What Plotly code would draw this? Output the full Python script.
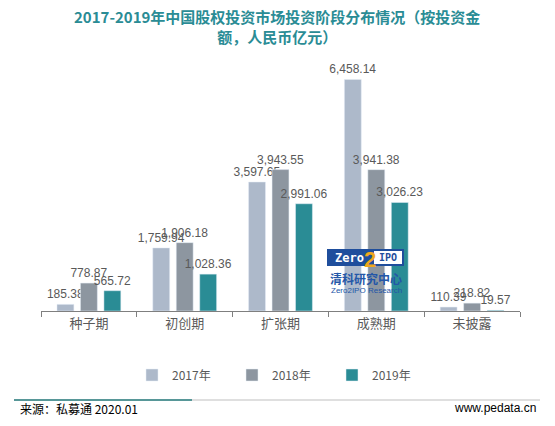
import plotly.graph_objects as go

categories = ["种子期", "初创期", "扩张期", "成熟期", "未披露"]
years = ["2017年", "2018年", "2019年"]
v2017 = [185.38, 1759.94, 3597.65, 6458.14, 110.39]
v2018 = [778.87, 1906.18, 3943.55, 3941.38, 218.82]
v2019 = [565.72, 1028.36, 2991.06, 3026.23, 19.57]
colors = ["#ADB9CA", "#8D96A0", "#2A8C95"]

W, H = 555, 426
L, R, T, B = 41, 35, 60, 115
PW, PH = W - L - R, H - T - B

def px(x):
    return (x - L) / PW

def py(y):
    return (H - B - y) / PH

fig = go.Figure()
for name, vals, c in zip(years, [v2017, v2018, v2019], colors):
    fig.add_trace(go.Bar(
        x=categories, y=vals, name=name, marker_color=c,
        texttemplate="%{y:,.2f}", textposition="outside",
        textfont=dict(size=12, color="#595959", family="Liberation Sans, Arial"),
        constraintext="none", cliponaxis=False,
    ))

shapes = [
    dict(type="line", xref="paper", yref="paper", x0=px(14), x1=px(540), y0=py(400), y1=py(400),
         line=dict(color="#BFBFBF", width=1)),
    dict(type="line", xref="paper", yref="paper", x0=px(14), x1=px(192), y0=py(400), y1=py(400),
         line=dict(color="#2A7F80", width=1.5)),
    # logo box
    dict(type="rect", xref="paper", yref="paper", x0=px(327), x1=px(404), y0=py(266), y1=py(249),
         fillcolor="#1F4E9C", line=dict(color="#1F4E9C", width=0), layer="above"),
    dict(type="rect", xref="paper", yref="paper", x0=px(374), x1=px(402), y0=py(264), y1=py(251),
         fillcolor="white", line=dict(width=0), layer="above"),
]

annotations = [
    dict(text="<b>2017-2019年中国股权投资市场投资阶段分布情况（按投资金<br>额，人民币亿元）</b>",
         xref="paper", yref="paper", x=px(277), y=py(4), xanchor="center", yanchor="top",
         showarrow=False, font=dict(size=15, color="#2A8C95", family="Noto Sans CJK SC"), align="center"),
    dict(text="来源：私募通 2020.01", xref="paper", yref="paper", x=px(18), y=py(408),
         xanchor="left", yanchor="middle", showarrow=False,
         font=dict(size=12, color="#000000", family="Noto Sans CJK SC")),
    dict(text="www.pedata.cn", xref="paper", yref="paper", x=px(538), y=py(408),
         xanchor="right", yanchor="middle", showarrow=False,
         font=dict(size=12, color="#000000", family="Liberation Sans, Arial")),
    # logo texts
    dict(text="<b>Zero</b>", xref="paper", yref="paper", x=px(349), y=py(257.5),
         xanchor="center", yanchor="middle", showarrow=False,
         font=dict(size=12, color="white", family="DejaVu Sans Mono")),
    dict(text="<b>2</b>", xref="paper", yref="paper", x=px(370), y=py(259),
         xanchor="center", yanchor="middle", showarrow=False,
         font=dict(size=22, color="#F0A81C", family="Liberation Sans")),
    dict(text="<b>IPO</b>", xref="paper", yref="paper", x=px(388), y=py(257.5),
         xanchor="center", yanchor="middle", showarrow=False,
         font=dict(size=10, color="#1F4E9C", family="DejaVu Sans Mono")),
    dict(text="<b>清科研究中心</b>", xref="paper", yref="paper", x=px(366), y=py(278),
         xanchor="center", yanchor="middle", showarrow=False,
         font=dict(size=12, color="#2457A8", family="Noto Sans CJK SC")),
    dict(text="Zero2IPO Research", xref="paper", yref="paper", x=px(366), y=py(290),
         xanchor="center", yanchor="middle", showarrow=False,
         font=dict(size=8, color="#2457A8", family="Liberation Sans")),
]

fig.update_layout(
    width=W, height=H,
    margin=dict(l=L, r=R, t=T, b=B),
    paper_bgcolor="white", plot_bgcolor="white",
    barmode="group", bargap=0.265, bargroupgap=0.28,
    showlegend=True,
    legend=dict(orientation="h", xref="paper", yref="paper", x=px(132), y=py(375),
                xanchor="left", yanchor="middle", entrywidth=55, entrywidthmode="pixels",
                font=dict(size=12, color="#595959", family="Noto Sans CJK SC"),
                bgcolor="rgba(0,0,0,0)"),
    xaxis=dict(showline=True, linecolor="#7F7F7F", linewidth=1, ticks="outside",
               tickson="boundaries", ticklen=5, tickcolor="#7F7F7F", showgrid=False,
               tickfont=dict(size=13, color="#595959", family="Noto Sans CJK SC")),
    yaxis=dict(range=[0, 7000], visible=False, showgrid=False),
    shapes=shapes, annotations=annotations,
    font=dict(family="Noto Sans CJK SC"),
)

fig.write_html("out.html")
